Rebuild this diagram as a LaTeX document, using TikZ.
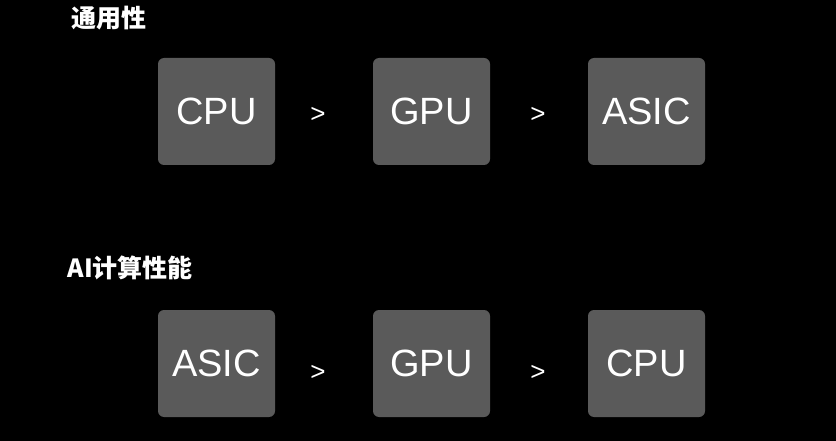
\documentclass[tikz,border=0pt]{standalone}
\usepackage{fontspec}
\setmainfont{Liberation Sans}
\newfontfamily\cjk{Noto Sans CJK SC}
\begin{document}
\begin{tikzpicture}[x=1pt,y=-1pt]
\tikzset{chip/.style={fill=boxgray,rounded corners=6pt,minimum width=117pt,minimum height=107pt,text=white,font=\fontsize{38}{40}\selectfont,inner sep=0pt},
gt/.style={text=white,font=\fontsize{26}{28}\selectfont},
ttl/.style={text=white,anchor=west,font=\cjk\bfseries\fontsize{25}{28}\selectfont}}
\definecolor{boxgray}{HTML}{5A5A5A}
\fill[black] (0,0) rectangle (836,441);
\useasboundingbox (0,0) rectangle (836,441);
\node[ttl] (t1) at (68,18) {通用性};
\node[ttl] (t2) at (64,268) {AI计算性能};
\node[chip] (a1) at (216.5,111.5) {CPU};
\node[chip] (a2) at (431.5,111.5) {GPU};
\node[chip] (a3) at (646.5,111.5) {ASIC};
\node[gt] (g1) at (318,115) {>};
\node[gt] (g2) at (538,115) {>};
\node[chip] (b1) at (216.5,363.5) {ASIC};
\node[chip] (b2) at (431.5,363.5) {GPU};
\node[chip] (b3) at (646.5,363.5) {CPU};
\node[gt] (g3) at (318,373) {>};
\node[gt] (g4) at (538,373) {>};
\end{tikzpicture}
\end{document}
